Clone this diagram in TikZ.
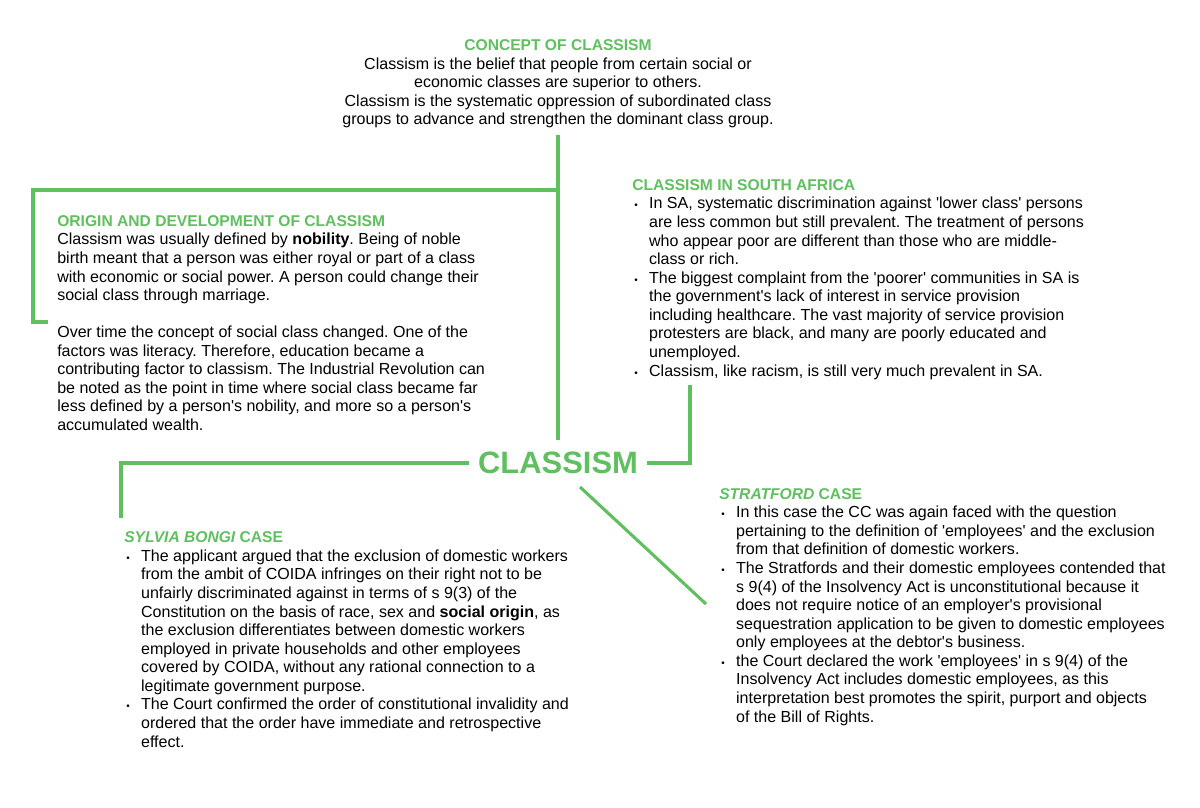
\documentclass[tikz,border=0pt]{standalone}
\usepackage{fontspec}
\setmainfont{Liberation Sans}
\usepackage{tikz}
\usepackage{xcolor}

\definecolor{mapgreen}{RGB}{96,192,96}
\frenchspacing

\newlength\bulw
\setlength\bulw{12pt}
\newcommand{\bul}{\makebox[\bulw][l]{\hspace{1.5pt}\scriptsize\textbullet}}
\newcommand{\indline}{\hspace*{\bulw}}
\newcommand{\apos}{\textquotesingle}
\newcommand{\headtxt}[1]{{\fontsize{11.1}{13.2}\selectfont\color{mapgreen}\bfseries #1}}

\begin{document}
\begin{tikzpicture}[x=0.025cm,y=-0.025cm,
  every node/.style={font=\fontsize{11.4}{13.2}\selectfont},
  txtbox/.style={inner sep=0pt,align=left,anchor=base west},
  link/.style={mapgreen,line width=2.2pt}]
\useasboundingbox (0,0) rectangle (1200,807);
\fill[white] (0,0) rectangle (1200,807);

\node[font=\fontsize{22}{26}\selectfont\bfseries,text=mapgreen,inner sep=6pt] (core) at (558,463) {CLASSISM};

% nodes sit on the baseline of their last line
\node[inner sep=0pt,align=center,anchor=base] (concept) at (558,125) {\headtxt{CONCEPT OF CLASSISM}\\
Classism is the belief that people from certain social or\\
economic classes are superior to others.\\
Classism is the systematic oppression of subordinated class\\
groups to advance and strengthen the dominant class group.};

\node[txtbox] (origin) at (57,430.5) {\headtxt{ORIGIN AND DEVELOPMENT OF CLASSISM}\\
Classism was usually defined by \textbf{nobility}. Being of noble\\
birth meant that a person was either royal or part of a class\\
with economic or social power. A person could change their\\
social class through marriage.\\[13.2pt]
Over time the concept of social class changed. One of the\\
factors was literacy. Therefore, education became a\\
contributing factor to classism. The Industrial Revolution can\\
be noted as the point in time where social class became far\\
less defined by a person\apos s nobility, and more so a person\apos s\\
accumulated wealth.};

\begin{scope}
\clip (600,170) rectangle (1083,400);
\node[txtbox] (southafrica) at (632,376) {\headtxt{CLASSISM IN SOUTH AFRICA}\\
\bul In SA, systematic discrimination against \apos lower class\apos{} persons\\
\indline are less common but still prevalent. The treatment of persons\\
\indline who appear poor are different than those who are middle-\\
\indline class or rich.\\
\bul The biggest complaint from the \apos poorer\apos{} communities in SA is\\
\indline the government\apos s lack of interest in service provision\\
\indline including healthcare. The vast majority of service provision\\
\indline protesters are black, and many are poorly educated and\\
\indline unemployed.\\
\bul Classism, like racism, is still very much prevalent in SA.};
\end{scope}

\node[txtbox] (sylvia) at (124,747) {\headtxt{\itshape SYLVIA BONGI\upshape\ CASE}\\
\bul The applicant argued that the exclusion of domestic workers\\
\indline from the ambit of COIDA infringes on their right not to be\\
\indline unfairly discriminated against in terms of s 9(3) of the\\
\indline Constitution on the basis of race, sex and \textbf{social origin}, as\\
\indline the exclusion differentiates between domestic workers\\
\indline employed in private households and other employees\\
\indline covered by COIDA, without any rational connection to a\\
\indline legitimate government purpose.\\
\bul The Court confirmed the order of constitutional invalidity and\\
\indline ordered that the order have immediate and retrospective\\
\indline effect.};

\node[txtbox] (stratford) at (719,722) {\headtxt{\itshape STRATFORD\upshape\ CASE}\\
\bul In this case the CC was again faced with the question\\
\indline pertaining to the definition of \apos employees\apos{} and the exclusion\\
\indline from that definition of domestic workers.\\
\bul The Stratfords and their domestic employees contended that\\
\indline s 9(4) of the Insolvency Act is unconstitutional because it\\
\indline does not require notice of an employer\apos s provisional\\
\indline sequestration application to be given to domestic employees\\
\indline only employees at the debtor\apos s business.\\
\bul the Court declared the work \apos employees\apos{} in s 9(4) of the\\
\indline Insolvency Act includes domestic employees, as this\\
\indline interpretation best promotes the spirit, purport and objects\\
\indline of the Bill of Rights.};

% connectors
\coordinate (trunkTop) at (558,135);
\coordinate (trunkEnd) at (558,440);
\coordinate (fork) at (558,190);
\coordinate (originTick) at (48,322);
\coordinate (sylviaEnd) at (121,518);
\coordinate (southEnd) at (690,385);
\coordinate (diagStart) at (580,487);
\coordinate (diagEnd) at (706,604);
\draw[link] (trunkTop) -- (trunkEnd);
\draw[link] (fork) -| (33,322) -- (originTick);
\draw[link] (core.west) -| (sylviaEnd);
\draw[link] (core.east) -| (southEnd);
\draw[link] (diagStart) -- (diagEnd);
\end{tikzpicture}
\end{document}
